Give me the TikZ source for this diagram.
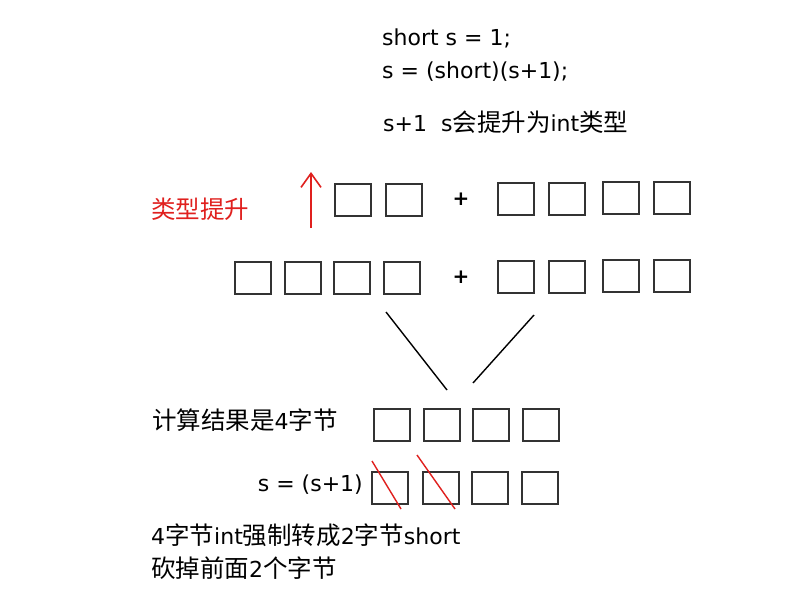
\documentclass[tikz,border=0pt]{standalone}
\usepackage{fontspec}
\setmainfont{Noto Sans CJK SC}
\newfontfamily\latfam{DejaVu Sans}
\newcommand\latn[1]{{\fontsize{22}{26}\latfam #1}}
\usetikzlibrary{arrows.meta}
\definecolor{redline}{HTML}{E0201E}
\definecolor{boxgray}{HTML}{333333}
\begin{document}
\begin{tikzpicture}[x=1pt,y=-1pt,
  cell/.style={draw=boxgray, line width=1.5pt, minimum width=36pt, minimum height=32pt, inner sep=0pt, anchor=north west},
  txt/.style={anchor=west, inner sep=0pt, font=\fontsize{24.5}{28}\selectfont},
  plus/.style={inner sep=0pt, font=\fontsize{20}{24}\latfam\bfseries},
  slash/.style={draw=redline, line width=1.4pt},
  vline/.style={draw=black, line width=1.4pt}]
\useasboundingbox[fill=white] (0,0) rectangle (802,615);
% top code text
\node[txt] (code1) at (382,38) {\latn{short s = 1;}};
\node[txt] (code2) at (382,72) {\latn{s = (short)(s+1);}};
\node[txt] (code3) at (383,122) {\latn{s+1\ \ s}会提升为\latn{int}类型};
% type promotion label and arrow
\node[txt, text=redline] (promo) at (151,209) {类型提升};
\coordinate (arrbot) at (311,228);
\coordinate (arrtop) at (311,172);
\draw[draw=redline, line width=1.6pt, -{Straight Barb[length=14pt,width=20pt,line width=1.6pt]}] (arrbot) -- (arrtop);
% upper row
\node[cell] (u1) at (334,183) {};
\node[cell] (u2) at (385,183) {};
\node[plus] (p1) at (461,199) {+};
\node[cell] (u3) at (497,182) {};
\node[cell] (u4) at (548,182) {};
\node[cell] (u5) at (602,181) {};
\node[cell] (u6) at (653,181) {};
% lower row
\node[cell] (l1) at (234,261) {};
\node[cell] (l2) at (284,261) {};
\node[cell] (l3) at (333,261) {};
\node[cell] (l4) at (383,261) {};
\node[plus] (p2) at (461,277) {+};
\node[cell] (l5) at (497,260) {};
\node[cell] (l6) at (548,260) {};
\node[cell] (l7) at (602,259) {};
\node[cell] (l8) at (653,259) {};
% V lines
\coordinate (va) at (386,312);
\coordinate (vb) at (447,390);
\coordinate (vc) at (534,315);
\coordinate (vd) at (473,383);
\draw[vline] (va) -- (vb);
\draw[vline] (vc) -- (vd);
% result row
\node[txt] (res) at (152,420) {计算结果是\latn{4}字节};
\node[cell] (r1) at (373,408) {};
\node[cell] (r2) at (423,408) {};
\node[cell] (r3) at (472,408) {};
\node[cell] (r4) at (522,408) {};
% s row
\node[txt, anchor=east] (sexpr) at (363,485) {\latn{s = (s+1)}};
\node[cell] (s1) at (371,471) {};
\node[cell] (s2) at (422,471) {};
\node[cell] (s3) at (471,471) {};
\node[cell] (s4) at (521,471) {};
\coordinate (sa1) at (372,461);
\coordinate (sa2) at (401,509);
\coordinate (sb1) at (417,455);
\coordinate (sb2) at (455,509);
\draw[slash] (sa1) -- (sa2);
\draw[slash] (sb1) -- (sb2);
% bottom text
\node[txt] (note1) at (151,535) {\latn{4}字节\latn{int}强制转成\latn{2}字节\latn{short}};
\node[txt] (note2) at (151,568) {砍掉前面\latn{2}个字节};
\end{tikzpicture}
\end{document}
